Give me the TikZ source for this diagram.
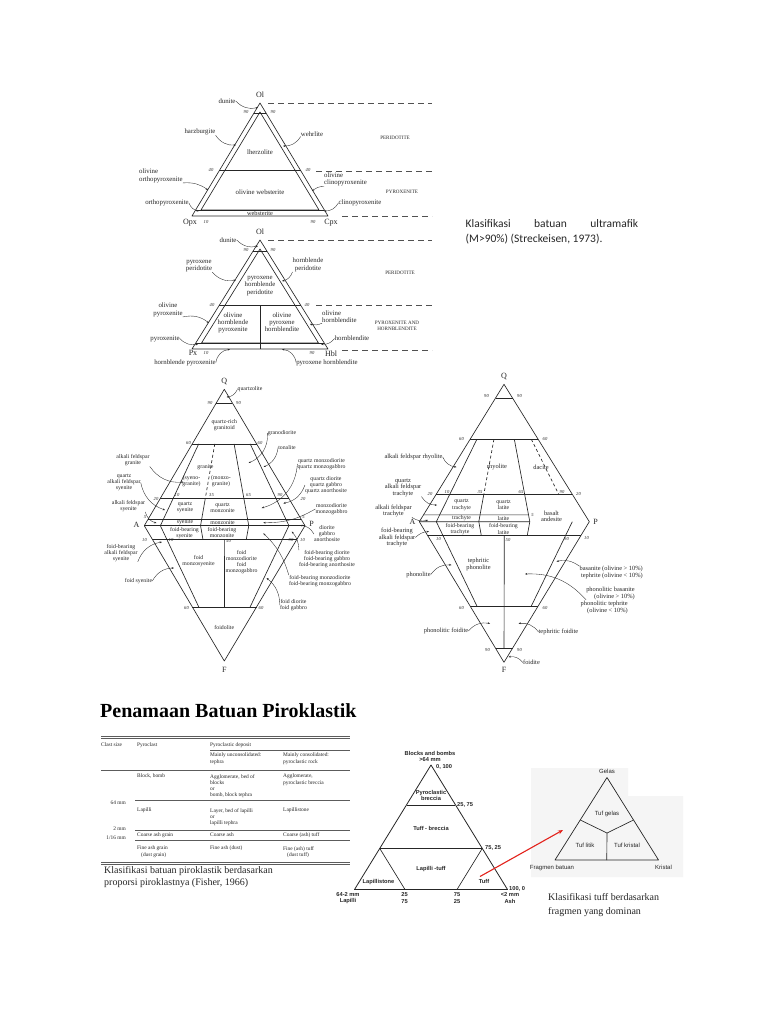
\documentclass[tikz,border=0pt]{standalone}
\usepackage{fontspec}
\setmainfont{Liberation Serif}
\newfontfamily\carlito{Carlito}
\newfontfamily\arialf{Liberation Sans}
\usepackage{xcolor}
\usetikzlibrary{arrows.meta, calc, positioning}

\definecolor{ink}{HTML}{262626}
\definecolor{redarrow}{HTML}{E3221B}
\definecolor{tuffbg}{HTML}{F5F5F5}

\begin{document}
\begin{tikzpicture}[x=1pt, y=-1pt, line join=round]

\tikzset{
    um/.style={font=\fontsize{6.8}{7.3}\selectfont, inner sep=0pt, align=center, text=ink},
    umcap/.style={font=\fontsize{5.1}{6.2}\selectfont, inner sep=0pt, align=center, text=ink},
    vtx/.style={font=\fontsize{8}{8}\selectfont, inner sep=0pt, text=ink},
    num/.style={font=\fontsize{4.6}{5}\selectfont\itshape, inner sep=0pt, text=ink},
    ql/.style={font=\fontsize{5.8}{6.0}\selectfont, inner sep=0pt, align=center, text=ink},
    vl/.style={font=\fontsize{5.8}{6.2}\selectfont, inner sep=0pt, align=center, text=ink},
    vlo/.style={font=\fontsize{6.4}{6.4}\selectfont, inner sep=0pt, align=center, text=ink},
    tabtxt/.style={font=\fontsize{5.4}{6.3}\selectfont, inner sep=0pt, align=left, text=ink},
    pyl/.style={font=\arialf\bfseries\fontsize{5.7}{6.2}\selectfont, inner sep=0pt, align=center, text=ink},
    tfl/.style={font=\arialf\fontsize{6}{7}\selectfont, inner sep=0pt, text=ink},
    captxt/.style={font=\fontsize{10}{12}\selectfont, inner sep=0pt, anchor=base west, text=ink},
    ln/.style={line width=0.65pt, draw=ink},
    dln/.style={line width=0.6pt, draw=ink!80, dash pattern=on 6pt off 4pt},
    rule/.style={line width=0.45pt, draw=ink!75},
    lead/.style={-{Stealth[length=2.4pt,width=1.8pt]}, line width=0.35pt, draw=ink}
}

\fill[white] (0,0) rectangle (768,1024);
\useasboundingbox (0,0) rectangle (768,1024);

% ── Ol - Opx - Cpx ──
\coordinate (t1O) at (260,103);
\coordinate (t1X) at (192,216);
\coordinate (t1C) at (328,216);
\draw[ln] (t1O) -- (t1X) -- (t1C) -- cycle;
\draw[ln] (260,112) -- (201,210) -- (319,210) -- cycle;
\draw[ln] ($(t1O)!.088!(t1X)$) -- ($(t1O)!.088!(t1C)$);
\draw[ln] ($(t1O)!.6!(t1X)$) -- ($(t1O)!.6!(t1C)$);
\draw[ln] ($(t1O)!.947!(t1X)$) -- ($(t1O)!.947!(t1C)$);
\draw[dln] (268,103) -- (432,103);
\draw[dln] (316,171) -- (432,171);
\draw[dln] (342,216) -- (432,216);

\node[vtx] (t1ol) at (260,95) {Ol};
\node[vtx] (t1opx) at (190,222.5) {Opx};
\node[vtx] (t1cpx) at (331,222.5) {Cpx};
\foreach \p/\t [count=\i] in {{246,112}/90, {273,112}/90, {211,170}/40, {308,170}/40, {206,221.5}/10, {313,221.5}/90}
    \node[num] (t1n\i) at (\p) {\t};
\node[um] (t1dun) at (227,101) {dunite};
\node[um] (t1hz) at (200,132) {harzburgite};
\node[um] (t1wh) at (312,134) {wehrlite};
\node[umcap] (t1per) at (395,138) {PERIDOTITE};
\node[um] (t1lh) at (260,152) {lherzolite};
\node[um, align=left, anchor=west] (t1oo) at (139,176) {olivine\\orthopyroxenite};
\node[um] (t1ow) at (260,192) {olivine websterite};
\node[um, align=left, anchor=west] (t1oc) at (324,179.5) {olivine\\clinopyroxenite};
\node[umcap] (t1pyx) at (402,192) {PYROXENITE};
\node[um] (t1op) at (167,203) {orthopyroxenite};
\node[um] (t1cp) at (360,203) {clinopyroxenite};
\node[um, font=\fontsize{6.3}{6.5}\selectfont] (t1wb) at (260,213) {websterite};

\coordinate (t1dunT) at (258,107.5); \draw[lead] (t1dun.east) to[bend right=30] (t1dunT);
\coordinate (t1hzT) at (236,145); \draw[lead] (t1hz.south east) to[bend right=30] (t1hzT);
\coordinate (t1whT) at (283,146); \draw[lead] (t1wh.south west) to[bend left=30] (t1whT);
\coordinate (t1ooT) at (208,190); \draw[lead] (t1oo.south east) to[bend left=20] (t1ooT);
\coordinate (t1ocT) at (312,191); \draw[lead] (t1oc.south west) to[bend right=20] (t1ocT);
\coordinate (t1opT) at (199,211); \draw[lead] (t1op.east) to[bend right=30] (t1opT);
\coordinate (t1cpT) at (324,211); \draw[lead] (t1cp.west) to[bend left=30] (t1cpT);

% ── teks ultramafik ──
\node[font=\carlito\fontsize{11.5}{14}\selectfont, inner sep=0pt, anchor=base west, text=ink] (ku1) at (465.5,228)
    {\makebox[172.5pt][s]{Klasifikasi batuan ultramafik}};
\node[font=\carlito\fontsize{11.5}{14}\selectfont, inner sep=0pt, anchor=base west, text=ink] (ku2) at (465.5,242)
    {(M>90\%) (Streckeisen, 1973).};

% ── Ol - Px - Hbl ──
\coordinate (t2O) at (260,240);
\coordinate (t2X) at (192,349);
\coordinate (t2H) at (328,349);
\draw[ln] (t2O) -- (t2X) -- (t2H) -- cycle;
\draw[ln] (260,249) -- (201.5,343) -- (318.5,343) -- cycle;
\draw[ln] ($(t2O)!.105!(t2X)$) -- ($(t2O)!.105!(t2H)$);
\draw[ln] ($(t2O)!.6!(t2X)$) -- ($(t2O)!.6!(t2H)$);
\draw[ln] ($(t2O)!.945!(t2X)$) -- ($(t2O)!.945!(t2H)$);
\draw[ln] (260,305.4) -- (260,349);
\draw[dln] (268,240) -- (432,240);
\draw[dln] (316,305) -- (432,305);
\draw[dln] (342,350) -- (432,350);

\node[vtx] (t2ol) at (260,232) {Ol};
\node[vtx] (t2px) at (193,353) {Px};
\node[vtx] (t2hb) at (331,353.5) {Hbl};
\foreach \p/\t [count=\i] in {{246,250}/90, {273,250}/90, {212,305}/40, {307,305}/40, {206,353}/10, {312,353}/90}
    \node[num] (t2n\i) at (\p) {\t};
\node[um] (t2dun) at (228,240) {dunite};
\node[um] (t2pp) at (199,266) {pyroxene\\peridotite};
\node[um] (t2hp) at (308,265) {hornblende\\peridotite};
\node[umcap] (t2per) at (400,273) {PERIDOTITE};
\node[um] (t2php) at (260,286) {pyroxene\\hornblende\\peridotite};
\node[um] (t2op) at (168,310) {olivine\\pyroxenite};
\node[um] (t2ohp) at (233,323) {olivine\\hornblende\\pyroxenite};
\node[um] (t2oph) at (282,322) {olivine\\pyroxene\\hornblendite};
\node[um, align=left, anchor=west] (t2oh) at (322,317) {olivine\\hornblendite};
\node[umcap] (t2ph) at (397,326) {PYROXENITE AND\\HORNBLENDITE};
\node[um] (t2pyr) at (165,338.5) {pyroxenite};
\node[um] (t2hbl) at (352,338.5) {hornblendite};
\node[um] (t2hpy) at (185,362.5) {hornblende pyroxenite};
\node[um] (t2phb) at (327,362.5) {pyroxene hornblendite};

\coordinate (t2dunT) at (258,246); \draw[lead] (t2dun.east) to[bend right=30] (t2dunT);
\coordinate (t2ppT) at (236,280); \draw[lead] (t2pp.south east) to[bend right=30] (t2ppT);
\coordinate (t2hpT) at (282,281); \draw[lead] (t2hp.south west) to[bend left=30] (t2hpT);
\coordinate (t2opT) at (209,323); \draw[lead] (t2op.south east) to[bend left=25] (t2opT);
\coordinate (t2ohT) at (310,324); \draw[lead] (t2oh.south west) to[bend left=20] (t2ohT);
\coordinate (t2pyrT) at (198,344); \draw[lead] (t2pyr.east) to[bend right=30] (t2pyrT);
\coordinate (t2hblT) at (321,344); \draw[lead] (t2hbl.west) to[bend left=30] (t2hblT);
\coordinate (t2hpyT) at (230,349.5); \draw[lead] (t2hpy.east) to[bend left=40] (t2hpyT);
\coordinate (t2phbT) at (282,349.5); \draw[lead] (t2phb.west) to[bend right=40] (t2phbT);

% ── QAPF plutonik ──
\coordinate (pQ) at (224.3,389.3);
\coordinate (pA) at (144.3,525.7);
\coordinate (pP) at (305,525.7);
\coordinate (pF) at (224.3,661);
\coordinate (pB10) at ($(pA)!.10!(pP)$);
\coordinate (pB35) at ($(pA)!.35!(pP)$);
\coordinate (pB50) at ($(pA)!.50!(pP)$);
\coordinate (pB65) at ($(pA)!.65!(pP)$);
\coordinate (pB90) at ($(pA)!.90!(pP)$);
\draw[ln] (pA) -- (pQ) -- (pP) -- (pF) -- cycle;
\draw[ln] (pA) -- (pP);
\foreach \f in {.9,.6,.2,.05}
    \draw[ln] ($(pA)!\f!(pQ)$) -- ($(pP)!\f!(pQ)$);
\foreach \f in {.1,.6}
    \draw[ln] ($(pA)!\f!(pF)$) -- ($(pP)!\f!(pF)$);
\draw[ln] ($(pB10)!.6!(pQ)$) -- (pB10) -- ($(pB10)!.6!(pF)$);
\draw[ln, dash pattern=on 3pt off 2.5pt] ($(pB35)!.6!(pQ)$) -- ($(pB35)!.2!(pQ)$);
\draw[ln] ($(pB35)!.2!(pQ)$) -- (pB35) -- ($(pB35)!.1!(pF)$);
\draw[ln] ($(pB65)!.6!(pQ)$) -- (pB65) -- ($(pB65)!.1!(pF)$);
\draw[ln] ($(pB90)!.6!(pQ)$) -- (pB90) -- ($(pB90)!.6!(pF)$);
\draw[ln] ($(pB50)!.1!(pF)$) -- ($(pB50)!.6!(pF)$);

\node[vtx] (pq) at (224.3,381.5) {Q};
\node[vtx] (pa) at (136.5,525) {A};
\node[vtx] (pp) at (311.5,524) {P};
\node[vtx] (pf) at (224.3,669.5) {F};
\foreach \p/\t [count=\i] in {{210,402.5}/90, {238.5,402.5}/90, {188.5,443}/60, {260,443}/60,
        {156,498.5}/20, {303,498.5}/20, {177,494.5}/10, {211.5,494.5}/35, {248.5,494.5}/65, {280,494.5}/90,
        {145,517}/5, {303.5,517}/5, {144.5,539.5}/10, {171,539.5}/10, {228.5,541}/50, {291,540}/90,
        {302.5,539.5}/10, {186.5,607.5}/60, {261,607.5}/60}
    \node[num] (pn\i) at (\p) {\t};
\node[ql] (pqz) at (250,389.5) {quartzolite};
\node[ql] (pqr) at (224.3,425) {quartz-rich\\granitoid};
\node[ql] (pgd) at (282,433) {granodiorite};
\node[ql] (pto) at (287,447.5) {tonalite};
\node[ql] (pafg) at (133,460.5) {alkali feldspar\\granite};
\node[ql] (pgr) at (205.5,467.5) {granite};
\node[ql] (psg) at (191.5,481.5) {(syeno-\\granite)};
\node[ql] (pmg) at (221,481.5) {(monzo-\\granite)};
\node[ql] (pqafs) at (124,482.5) {quartz\\alkali feldspar\\syenite};
\node[ql] (pafs) at (128.5,506) {alkali feldspar\\syenite};
\node[ql] (pqs) at (185,507.5) {quartz\\syenite};
\node[ql] (pqm) at (222.5,507.5) {quartz\\monzonite};
\node[ql] (psy) at (185,522.3) {syenite};
\node[ql] (pmz) at (222.5,522.3) {monzonite};
\node[ql] (pfbs) at (184.5,532.6) {foid-bearing\\syenite};
\node[ql] (pfbm) at (222,532.6) {foid-bearing\\monzonite};
\node[ql] (pfbafs) at (121,553) {foid-bearing\\alkali feldspar\\syenite};
\node[ql] (pfms) at (198.5,561) {foid\\monzosyenite};
\node[ql] (pfmd) at (241.5,562) {foid\\monzodiorite\\foid\\monzogabbro};
\node[ql] (pfs) at (138.5,581) {foid syenite};
\node[ql] (pfol) at (224.3,627) {foidolite};
\node[ql] (pqmd) at (321.5,464) {quartz monzodiorite\\quartz monzogabbro};
\node[ql] (pqd) at (326,485) {quartz diorite\\quartz gabbro\\quartz anorthosite};
\node[ql] (pmd) at (331.5,509) {monzodiorite\\monzogabbro};
\node[ql] (pdi) at (327,534) {diorite\\gabbro\\anorthosite};
\node[ql] (pfbd) at (327,559) {foid-bearing diorite\\foid-bearing gabbro\\foid-bearing anorthosite};
\node[ql] (pfbmd) at (320,581) {foid-bearing monzodiorite\\foid-bearing monzogabbro};
\node[ql] (pfd) at (293.5,605) {foid diorite\\foid gabbro};

\coordinate (pqzT) at (226.5,397); \draw[lead] (pqz.west) to[bend left=30] (pqzT);
\coordinate (pgdT) at (248.5,463); \draw[lead] (pgd.west) to[bend left=35] (pgdT);
\coordinate (ptoT) at (263.5,467); \draw[lead] (pto.west) to[bend left=30] (ptoT);
\coordinate (pafgT) at (183.5,482); \draw[lead] (pafg.south east) to[bend right=30] (pafgT);
\coordinate (pqafsT) at (165,510); \draw[lead] (pqafs.east) to[bend right=30] (pqafsT);
\coordinate (pafsT) at (156.5,523); \draw[lead] (pafs.south east) to[bend right=30] (pafsT);
\coordinate (pfbafsT) at (162,542); \draw[lead] (pfbafs.south east) to[bend left=30] (pfbafsT);
\coordinate (pfsT) at (174,568); \draw[lead] (pfs.east) to[bend left=30] (pfsT);
\coordinate (pqmdT) at (261.7,508); \draw[lead] (pqmd.west) to[bend left=35] (pqmdT);
\coordinate (pqdT) at (283.3,503.3); \draw[lead] (pqd.west) to[bend left=30] (pqdT);
\coordinate (pmdT) at (263.3,522.7); \draw[lead] (pmd.west) to[bend left=15] (pmdT);
\coordinate (pdiT) at (300,525.5); \draw[lead] (pdi.west) to[bend right=30] (pdiT);
\coordinate (pfbdT) at (291.7,531.5); \draw[lead] (pfbd.north west) to[bend right=20] (pfbdT);
\coordinate (pfbmdT) at (263.3,533.3); \draw[lead] (pfbmd.north west) to[bend right=15] (pfbmdT);
\coordinate (pfdT) at (266.5,578); \draw[lead] (pfd.west) to[bend right=25] (pfdT);

% ── QAPF vulkanik ──
\coordinate (vQ) at (504,384.3);
\coordinate (vA) at (419.3,521.7);
\coordinate (vP) at (589.3,521.7);
\coordinate (vF) at (504,662.3);
\coordinate (vB10) at ($(vA)!.10!(vP)$);
\coordinate (vB35) at ($(vA)!.35!(vP)$);
\coordinate (vB50) at ($(vA)!.50!(vP)$);
\coordinate (vB65) at ($(vA)!.65!(vP)$);
\coordinate (vB90) at ($(vA)!.90!(vP)$);
\draw[ln] (vA) -- (vQ) -- (vP) -- (vF) -- cycle;
\foreach \f in {.9,.6,.2}
    \draw[ln] ($(vA)!\f!(vQ)$) -- ($(vP)!\f!(vQ)$);
\draw[ln] ($(vA)!.05!(vQ)$) -- ($(vB65)!.05!(vQ)$);
\draw[ln] (vA) -- (vB65);
\foreach \f in {.1,.6,.9}
    \draw[ln] ($(vA)!\f!(vF)$) -- ($(vP)!\f!(vF)$);
\draw[ln] ($(vB10)!.6!(vQ)$) -- (vB10) -- ($(vB10)!.6!(vF)$);
\draw[ln, dash pattern=on 3pt off 2.5pt] ($(vB35)!.6!(vQ)$) -- ($(vB35)!.2!(vQ)$);
\draw[ln] ($(vB35)!.2!(vQ)$) -- (vB35) -- ($(vB35)!.1!(vF)$);
\draw[ln] ($(vB65)!.6!(vQ)$) -- (vB65) -- ($(vB65)!.1!(vF)$);
\draw[ln, dash pattern=on 3pt off 2.5pt] ($(vB90)!.6!(vQ)$) -- ($(vB90)!.2!(vQ)$);
\draw[ln] (vB90) -- ($(vB90)!.6!(vF)$);
\draw[ln] ($(vB50)!.1!(vF)$) -- ($(vB50)!.9!(vF)$);

\node[vtx] (vq) at (504,376) {Q};
\node[vtx] (va) at (412.5,521.5) {A};
\node[vtx] (vp) at (595.5,521.5) {P};
\node[vtx] (vf) at (504,670) {F};
\foreach \p/\t [count=\i] in {{486.5,396}/90, {519.5,396}/90, {461.5,438.5}/60, {545,438.5}/60,
        {430,493.5}/20, {447,491.5}/10, {480,491.5}/35, {521,491.5}/65, {562,491.5}/90, {578.5,493.5}/20,
        {532.5,515.5}/5, {438.5,539}/10, {508,540}/50, {566.5,539}/90, {586.5,537.5}/10,
        {461.5,607.5}/60, {545,607.5}/60, {487.5,649.5}/90, {519.5,649.5}/90}
    \node[num] (vn\i) at (\p) {\t};
\node[vlo] (vafr) at (413.5,457) {alkali feldspar rhyolite};
\node[vlo] (vrhy) at (497,467) {rhyolite};
\node[vlo] (vdac) at (541,467) {dacite};
\node[vlo] (vqaft) at (403,487.5) {quartz\\alkali feldspar\\trachyte};
\node[vl] (vqt) at (461.5,505) {quartz\\trachyte};
\node[vl] (vql) at (503.5,505) {quartz\\latite};
\node[vlo] (vba) at (551.5,516.5) {basalt\\andesite};
\node[vlo] (vaft) at (393.5,511) {alkali feldspar\\trachyte};
\node[vl] (vtr) at (461.5,518.5) {trachyte};
\node[vl] (vlat) at (503.5,518.5) {latite};
\node[vl] (vfbt) at (460,529) {foid-bearing\\trachyte};
\node[vl] (vfbl) at (503.5,529) {foid-bearing\\latite};
\node[vlo] (vfbaft) at (397,537.5) {foid-bearing\\alkali feldspar\\trachyte};
\node[vlo] (vtph) at (478.5,564.5) {tephritic\\phonolite};
\node[vlo] (vpho) at (418.5,574.5) {phonolite};
\node[vlo, align=right, anchor=east] (vbas) at (643,572.5) {basanite (olivine > 10\%)\\tephrite (olivine < 10\%)};
\node[vlo, align=right, anchor=east] (vpb) at (635,593.5) {phonolitic basanite\\(olivine > 10\%)};
\node[vlo, align=right, anchor=east] (vpt) at (628,607.5) {phonolitic tephrite\\(olivine < 10\%)};
\node[vlo] (vpf) at (446,631) {phonolitic foidite};
\node[vlo] (vtf) at (558.5,632) {tephritic foidite};
\node[vlo] (vfd) at (531.5,662.5) {foidite};

\coordinate (vafrT) at (456.5,467); \draw[lead] (vafr.east) to[bend right=30] (vafrT);
\coordinate (vqaftT) at (437,505); \draw[lead] (vqaft.south east) to[bend right=30] (vqaftT);
\coordinate (vaftT) at (428,520); \draw[lead] (vaft.south east) to[bend right=25] (vaftT);
\coordinate (vfbaftT) at (429,531.5); \draw[lead] (vfbaft.east) to[bend left=20] (vfbaftT);
\coordinate (vphoT) at (451.5,565); \draw[lead] (vpho.east) to[bend left=30] (vphoT);
\coordinate (vbasT) at (556.5,561.5); \draw[lead] (vbas.north west) to[bend right=25] (vbasT);
\coordinate (vpbT) at (525,574); \draw[lead] (vpb.south west) to[bend right=25] (vpbT);
\coordinate (vpfT) at (490,623.5); \draw[lead] (vpf.east) to[bend left=30] (vpfT);
\coordinate (vtfT) at (518.5,623.5); \draw[lead] (vtf.west) to[bend right=30] (vtfT);
\coordinate (vfdT) at (508.5,657); \draw[lead] (vfd.west) to[bend right=30] (vfdT);

% ── judul ──
\node[font=\bfseries\fontsize{20}{24}\selectfont, inner sep=0pt, anchor=base west, text=black] (title) at (100,717)
    {Penamaan Batuan Piroklastik};

% ── tabel Fisher ──
\draw[rule] (101,736.3) -- (350,736.3);
\draw[rule] (101,738.6) -- (350,738.6);
\draw[rule] (210,750.5) -- (350,750.5);
\draw[rule] (101,770.5) -- (350,770.5);
\draw[rule] (135,800) -- (350,800);
\draw[rule] (135,830) -- (350,830);
\draw[rule] (135,840.5) -- (350,840.5);
\draw[rule] (101,862.3) -- (350,862.3);
\draw[rule] (101,864.6) -- (350,864.6);

\node[tabtxt, anchor=west] (tcs) at (101,745) {Clast size};
\node[tabtxt, anchor=west] (tpc) at (137,745) {Pyroclast};
\node[tabtxt, anchor=west] (tpd) at (210,745) {Pyroclastic deposit};
\node[tabtxt, anchor=north west] (tmu) at (210,753) {Mainly unconsolidated:\\tephra};
\node[tabtxt, anchor=north west] (tmc) at (283,753) {Mainly consolidated:\\pyroclastic rock};
\node[tabtxt, anchor=north west] (tbb) at (137,774) {Block, bomb};
\node[tabtxt, anchor=north west] (tag) at (210,774) {Agglomerate, bed of\\blocks\\or\\bomb, block tephra};
\node[tabtxt, anchor=north west] (tagb) at (283,774) {Agglomerate,\\pyroclastic breccia};
\node[tabtxt, anchor=east] (t64) at (126,803) {64 mm};
\node[tabtxt, anchor=north west] (tlap) at (137,808) {Lapilli};
\node[tabtxt, anchor=north west] (tlay) at (210,808) {Layer, bed of lapilli\\or\\lapilli tephra};
\node[tabtxt, anchor=north west] (tlps) at (283,808) {Lapillistone};
\node[tabtxt, anchor=east] (t2mm) at (126,829) {2 mm};
\node[tabtxt, anchor=west] (tcag) at (137,835) {Coarse ash grain};
\node[tabtxt, anchor=west] (tca) at (210,835) {Coarse ash};
\node[tabtxt, anchor=west] (tcat) at (283,835) {Coarse (ash) tuff};
\node[tabtxt, anchor=east] (t16) at (126,837.5) {1/16 mm};
\node[tabtxt, anchor=north west] (tfag) at (137,846) {Fine ash grain\\\hspace*{4pt}(dust grain)};
\node[tabtxt, anchor=north west] (tfa) at (210,846) {Fine ash (dust)};
\node[tabtxt, anchor=north west] (tfat) at (283,846) {Fine (ash) tuff\\\hspace*{4pt}(dust tuff)};

\node[captxt] (tcap1) at (104,873.5) {Klasifikasi batuan piroklastik berdasarkan};
\node[captxt] (tcap2) at (104,885.5) {proporsi piroklastnya (Fisher, 1966)};

% ── segitiga piroklastik ──
\coordinate (pyA) at (431,765);
\coordinate (pyL) at (354.5,889.5);
\coordinate (pyR) at (507.5,889.5);
\draw[ln, line width=0.8pt] (pyA) -- (pyL) -- (pyR) -- cycle;
\draw[ln] ($(pyA)!.32!(pyL)$) -- ($(pyA)!.32!(pyR)$);
\draw[ln] ($(pyA)!.67!(pyL)$) -- ($(pyA)!.67!(pyR)$);
\draw[ln] ($(pyA)!.67!(pyL)$) -- ($(pyL)!.33!(pyR)$);
\draw[ln] ($(pyA)!.67!(pyR)$) -- ($(pyL)!.67!(pyR)$);

\node[pyl] (pybb) at (430,756.5) {Blocks and bombs\\>64 mm};
\node[pyl, anchor=west] (py0) at (436,766.5) {0, 100};
\node[pyl] (pypb) at (431,795.5) {Pyroclastic\\breccia};
\node[pyl, anchor=west] (py25) at (457,805) {25, 75};
\node[pyl] (pytb) at (431,828) {Tuff - breccia};
\node[pyl, anchor=west] (py75) at (485,848) {75, 25};
\node[pyl] (pylt) at (431,869) {Lapilli -tuff};
\node[pyl] (pyls) at (378.5,882.5) {Lapillistone};
\node[pyl] (pytf) at (484,881) {Tuff};
\node[pyl, anchor=west] (py100) at (509,889) {100, 0};
\node[pyl] (pyb1) at (348,898) {64-2 mm\\Lapilli};
\node[pyl] (pyb2) at (404.5,898) {25\\75};
\node[pyl] (pyb3) at (457,898) {75\\25};
\node[pyl] (pyb4) at (510,898) {<2 mm\\Ash};

% ── segitiga tuf ──
\fill[tuffbg] (531,768) -- (628,768) -- (628,796) -- (683,796) -- (683,877) -- (531,877) -- cycle;
\coordinate (tfG) at (607,777.5);
\coordinate (tfF) at (555,860);
\coordinate (tfK) at (658.5,860);
\coordinate (tfM) at (607,833);
\draw[ln, line width=0.7pt] (tfG) -- (tfF) -- (tfK) -- cycle;
\draw[ln] ($(tfG)!.515!(tfF)$) -- (tfM) -- ($(tfG)!.515!(tfK)$);
\draw[ln] (tfM) -- ($(tfF)!.5!(tfK)$);

\node[tfl] (tfg) at (607,771) {Gelas};
\node[tfl] (tftg) at (607,813.5) {Tuf gelas};
\node[tfl] (tftl) at (585,845) {Tuf litik};
\node[tfl] (tftk) at (627,845) {Tuf kristal};
\node[tfl] (tffb) at (552,867.5) {Fragmen batuan};
\node[tfl] (tfk) at (663.5,867.5) {Kristal};

\coordinate (rS) at (480,876.5);
\coordinate (rE) at (563,830);
\draw[redarrow, line width=1.1pt, -{Stealth[length=5pt,width=4pt]}] (rS) -- (rE);

\node[captxt] (fcap1) at (548,900) {Klasifikasi tuff berdasarkan};
\node[captxt] (fcap2) at (548,914) {fragmen yang dominan};

\end{tikzpicture}
\end{document}
